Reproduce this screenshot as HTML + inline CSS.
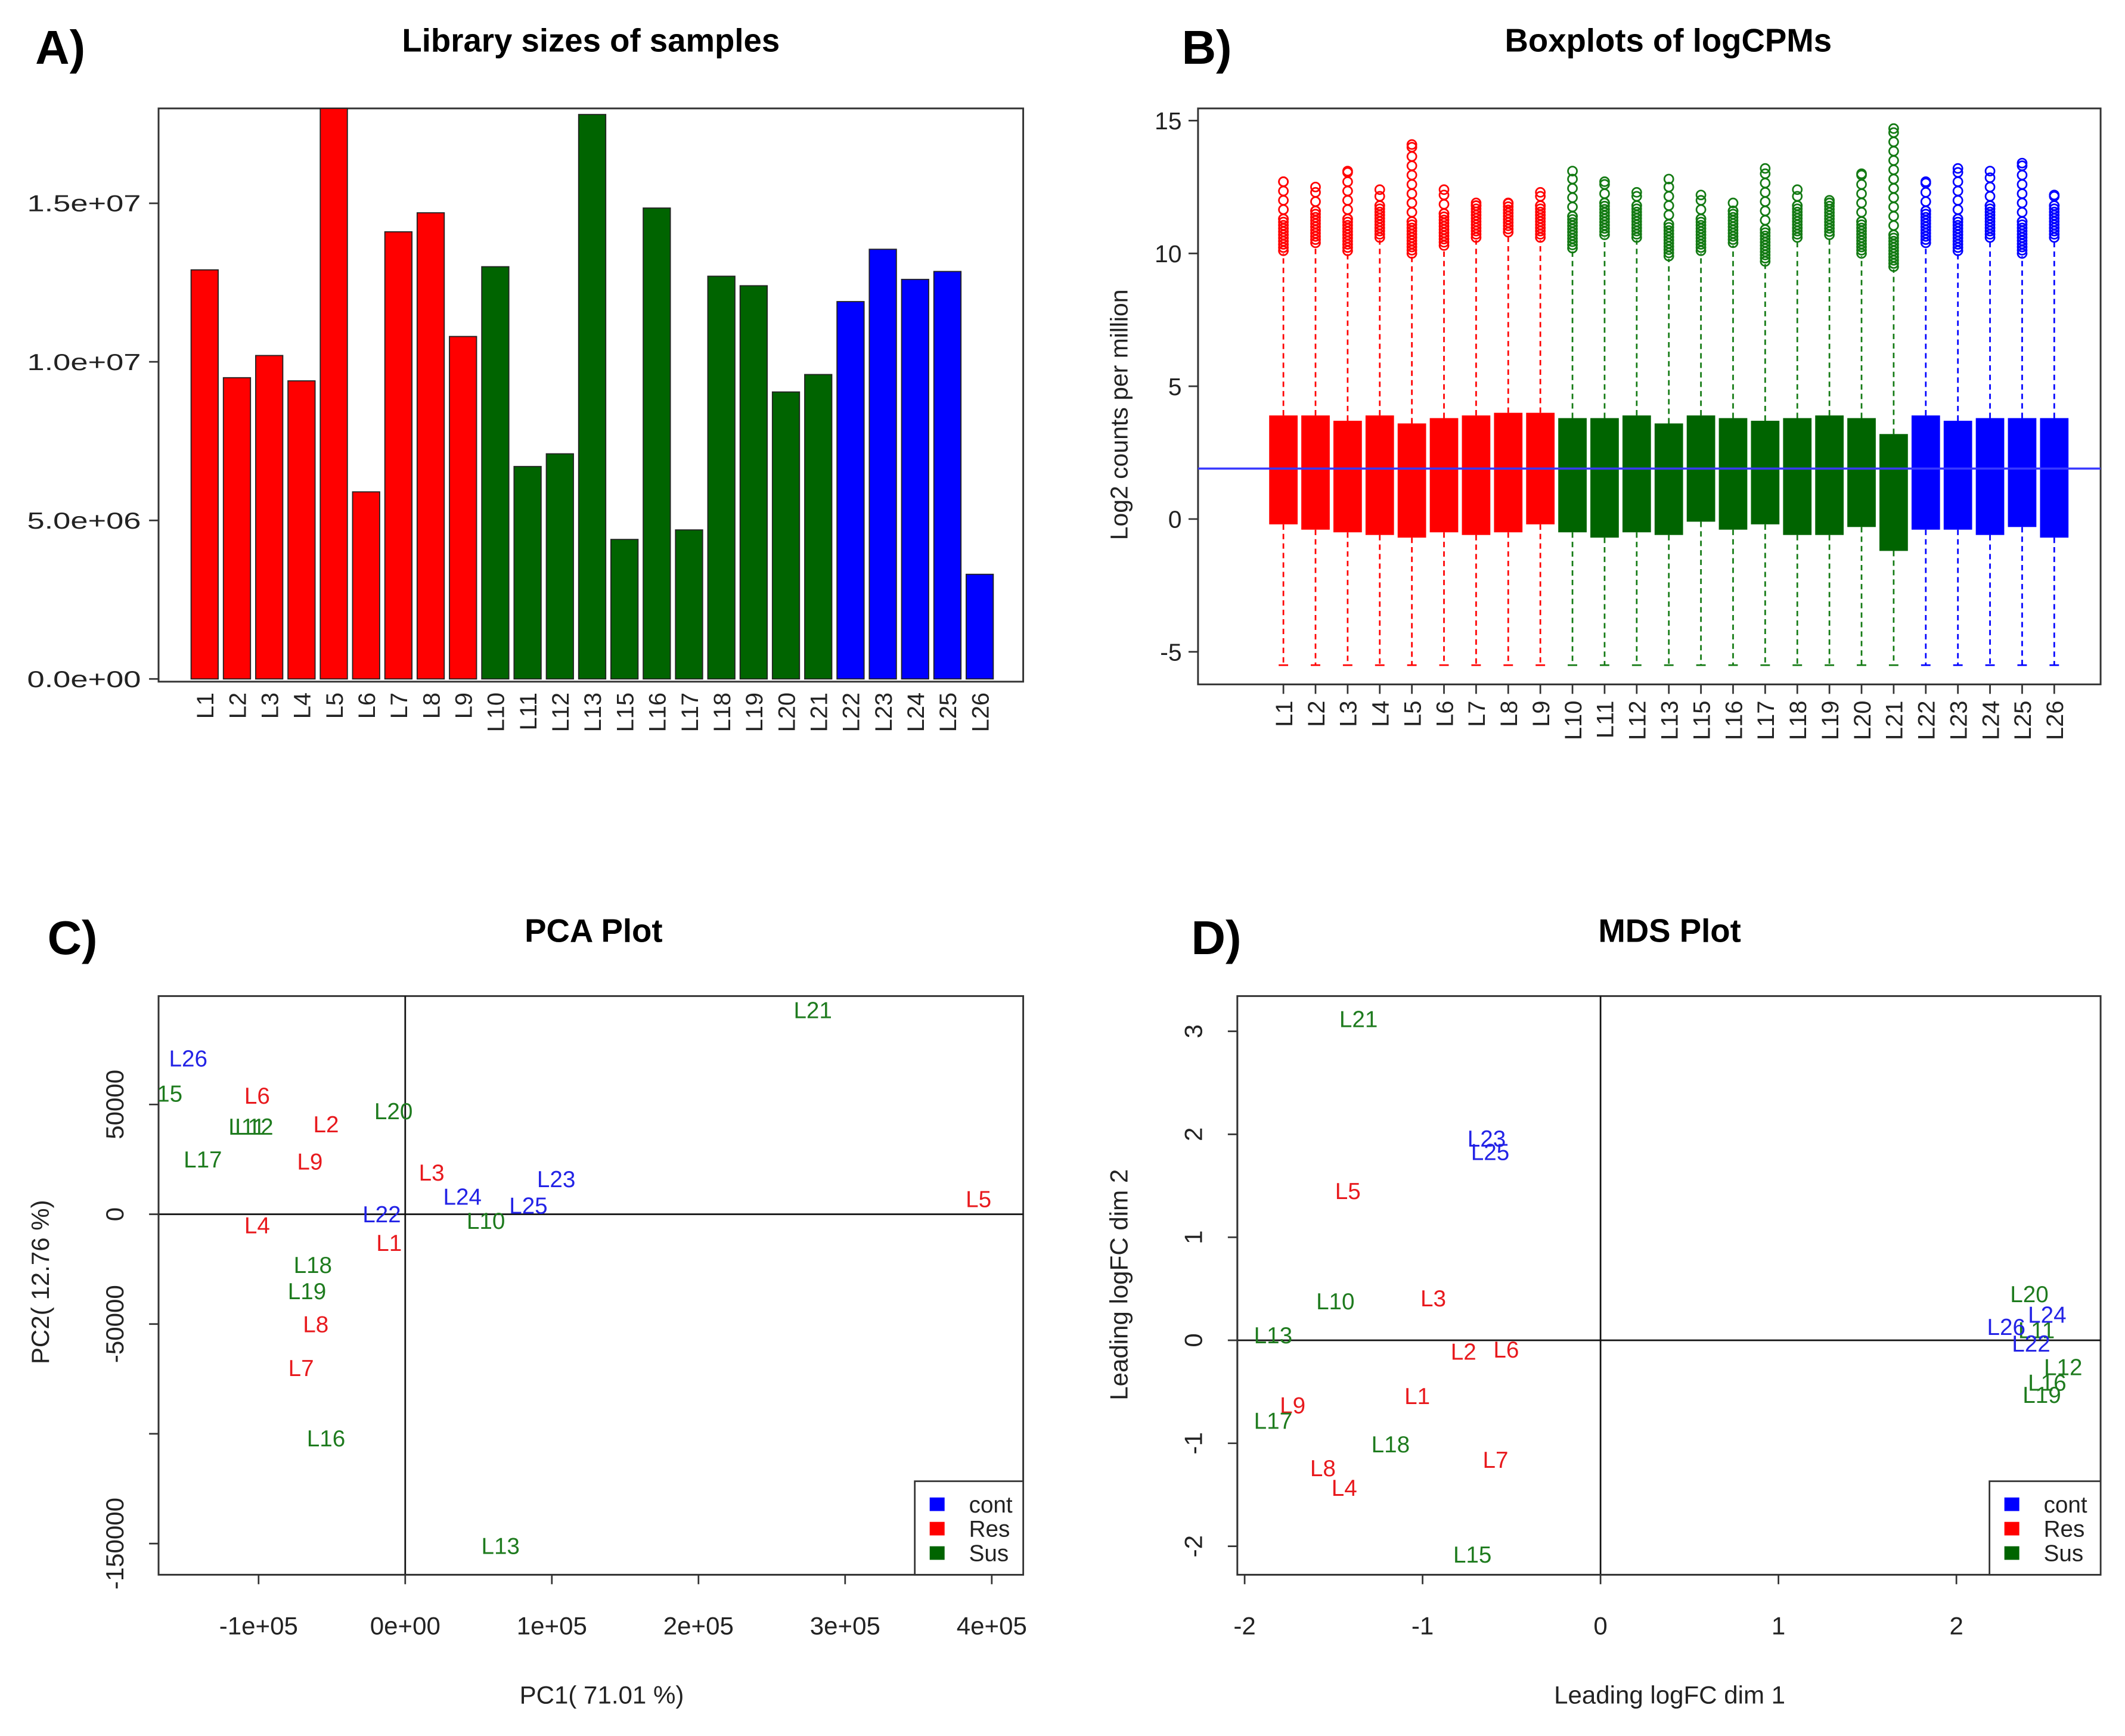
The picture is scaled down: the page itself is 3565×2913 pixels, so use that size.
<!DOCTYPE html>
<html><head><meta charset="utf-8">
<style>
html,body{margin:0;padding:0;background:#fff;}
svg{display:block;font-family:"Liberation Sans",Arial,sans-serif;}
</style></head>
<body>
<svg id="fig" width="3565" height="2913" viewBox="0 0 1568 1281" preserveAspectRatio="none" xmlns="http://www.w3.org/2000/svg">
<rect x="0" y="0" width="1568" height="1281" fill="#fff"/>
<g id="pa">
 <text x="26" y="47" font-size="35" font-weight="900">A)</text>
 <text x="436" y="38" font-size="24" font-weight="bold" text-anchor="middle">Library sizes of samples</text>
 <rect x="117" y="80" width="638" height="423" fill="none" stroke="#333" stroke-width="1.3"/>
</g>
<g id="pb">
 <text x="872" y="47" font-size="35" font-weight="900">B)</text>
 <text x="1231" y="38" font-size="24" font-weight="bold" text-anchor="middle">Boxplots of logCPMs</text>
 <rect x="884" y="80" width="666" height="425" fill="none" stroke="#333" stroke-width="1.3"/>
 <text transform="translate(832,306) rotate(-90)" font-size="18" text-anchor="middle" fill="#222">Log2 counts per million</text>
</g>
<g id="pc">
 <text x="35" y="704" font-size="35" font-weight="900">C)</text>
 <text x="438" y="695" font-size="24" font-weight="bold" text-anchor="middle">PCA Plot</text>
 <rect x="117" y="735" width="638" height="427" fill="none" stroke="#333" stroke-width="1.3"/>
 <text x="444" y="1257" font-size="18.5" text-anchor="middle" fill="#222">PC1( 71.01 %)</text>
 <text transform="translate(36,946) rotate(-90)" font-size="18.5" text-anchor="middle" fill="#222">PC2( 12.76 %)</text>
</g>
<g id="pd">
 <text x="879" y="704" font-size="35" font-weight="900">D)</text>
 <text x="1232" y="695" font-size="24" font-weight="bold" text-anchor="middle">MDS Plot</text>
 <rect x="913" y="735" width="637" height="427" fill="none" stroke="#333" stroke-width="1.3"/>
 <text x="1232" y="1257" font-size="18.5" text-anchor="middle" fill="#222">Leading logFC dim 1</text>
 <text transform="translate(832,948) rotate(-90)" font-size="18.5" text-anchor="middle" fill="#222">Leading logFC dim 2</text>
</g>
</svg>
<script>
const samples = ["L1","L2","L3","L4","L5","L6","L7","L8","L9","L10","L11","L12","L13","L15","L16","L17","L18","L19","L20","L21","L22","L23","L24","L25","L26"];
const groups = ["Res","Res","Res","Res","Res","Res","Res","Res","Res","Sus","Sus","Sus","Sus","Sus","Sus","Sus","Sus","Sus","Sus","Sus","cont","cont","cont","cont","cont"];
const libSizes = [12.9e6,9.5e6,10.2e6,9.4e6,18.2e6,5.9e6,14.1e6,14.7e6,10.8e6,13.0e6,6.7e6,7.1e6,17.8e6,4.4e6,14.85e6,4.7e6,12.7e6,12.4e6,9.05e6,9.6e6,11.9e6,13.55e6,12.6e6,12.85e6,3.3e6];
const libTicks = [0,5e6,10e6,15e6];
const libTickLabels = ["0.0e+00","5.0e+06","1.0e+07","1.5e+07"];
const boxQ3 = [3.9,3.9,3.7,3.9,3.6,3.8,3.9,4.0,4.0,3.8,3.8,3.9,3.6,3.9,3.8,3.7,3.8,3.9,3.8,3.2,3.9,3.7,3.8,3.8,3.8];
const boxQ1 = [-0.2,-0.4,-0.5,-0.6,-0.7,-0.5,-0.6,-0.5,-0.2,-0.5,-0.7,-0.5,-0.6,-0.1,-0.4,-0.2,-0.6,-0.6,-0.3,-1.2,-0.4,-0.4,-0.6,-0.3,-0.7];
const whiskLow = [-5.5,-5.5,-5.5,-5.5,-5.5,-5.5,-5.5,-5.5,-5.5,-5.5,-5.5,-5.5,-5.5,-5.5,-5.5,-5.5,-5.5,-5.5,-5.5,-5.5,-5.5,-5.5,-5.5,-5.5,-5.5];
const whiskHigh = [10.0,10.3,10.0,10.5,9.9,10.2,10.5,10.7,10.5,10.1,10.6,10.5,9.8,10.0,10.3,9.6,10.5,10.6,9.9,9.4,10.3,10.0,10.5,9.9,10.5];
const outlierMax = [12.7,12.5,13.1,12.4,14.1,12.4,11.9,11.9,12.3,13.1,12.7,12.3,12.8,12.2,11.9,13.2,12.4,12.0,13.0,14.7,12.7,13.2,13.1,13.4,12.2];
const medianLine = 1.9;
const boxTicks = [-5,0,5,10,15];
const pcaX = [-11e3,-54e3,18e3,-101e3,391e3,-101e3,-71e3,-61e3,-65e3,55e3,-108e3,-103e3,65e3,-165e3,-54e3,-138e3,-63e3,-67e3,-8e3,278e3,-16e3,103e3,39e3,84e3,-148e3];
const pcaY = [-13e3,41e3,19e3,-5e3,7e3,54e3,-70e3,-50e3,24e3,-3e3,40e3,40e3,-151e3,55e3,-102e3,25e3,-23e3,-35e3,47e3,93e3,0,16e3,8e3,4e3,71e3];
const pcaXTicks = [-1e5,0,1e5,2e5,3e5,4e5];
const pcaXTickLabels = ["-1e+05","0e+00","1e+05","2e+05","3e+05","4e+05"];
const pcaYTicks = [-150000,-100000,-50000,0,50000];
const pcaYTickLabels = ["-150000","","-50000","0","50000"];
const mdsX = [-1.03,-0.77,-0.94,-1.44,-1.42,-0.53,-0.59,-1.56,-1.73,-1.49,2.45,2.6,-1.84,-0.72,2.51,-1.84,-1.18,2.48,2.41,-1.36,2.42,-0.64,2.51,-0.62,2.28];
const mdsY = [-0.54,-0.11,0.41,-1.43,1.45,-0.09,-1.16,-1.24,-0.63,0.38,0.1,-0.26,0.05,-2.08,-0.41,-0.78,-1.01,-0.53,0.45,3.12,-0.03,1.96,0.25,1.83,0.13];
const mdsXTicks = [-2,-1,0,1,2];
const mdsYTicks = [-2,-1,0,1,2,3];
const legendLabels = ["cont","Res","Sus"];

const NS = "http://www.w3.org/2000/svg";
const fill = {Res:"#ff0000",Sus:"#006400",cont:"#0000ff"};
const txtCol = {Res:"#e8191d",Sus:"#1e7b1e",cont:"#2323e6"};
function mk(parent, tag, attrs){const e=document.createElementNS(NS,tag);for(const k in attrs)e.setAttribute(k,attrs[k]);parent.appendChild(e);return e;}

// Panel A
const pa=document.getElementById('pa');
const aY=v=>501-v/5e6*117;
const aX=i=>141+i*23.83;
const aBw=20;
mk(pa,'line',{x1:117,y1:aY(0),x2:117,y2:aY(15e6),stroke:'#333','stroke-width':1.2});
libTicks.forEach((t,i)=>{
  const tk=mk(pa,'line',{x1:110,x2:117,y1:aY(t),y2:aY(t),stroke:'#333','stroke-width':1.2});
  
  
  const tl=mk(pa,'text',{x:104,y:aY(t)+6,'font-size':17,'text-anchor':'end',fill:'#222',textLength:84,lengthAdjust:'spacingAndGlyphs'});
  tl.textContent=libTickLabels[i];
  
  
});
samples.forEach((s,i)=>{
  const top=Math.max(aY(libSizes[i]),80);
  const b=mk(pa,'rect',{x:aX(i),y:top,width:aBw,height:aY(0)-top,fill:fill[groups[i]],stroke:'#222','stroke-width':0.8});
  
  
  const t=mk(pa,'text',{transform:`translate(${aX(i)+aBw/2+6.5},511) rotate(-90)`,'font-size':17.5,'text-anchor':'end',fill:'#222'});
  t.textContent=s;
  
  
});

// Panel B
const pb=document.getElementById('pb');
const bY=v=>383-v*19.6;
const bX=i=>947+i*23.7;
const bBw=21;
boxTicks.forEach(t=>{
  const tk=mk(pb,'line',{x1:877,x2:884,y1:bY(t),y2:bY(t),stroke:'#333','stroke-width':1.2});
  
  
  const tl=mk(pb,'text',{x:872,y:bY(t)+6.5,'font-size':18,'text-anchor':'end',fill:'#222'});
  tl.textContent=String(t);
  
  
});
mk(pb,'line',{x1:884,x2:884,y1:bY(-5),y2:bY(15),stroke:'#333','stroke-width':1.2});
mk(pb,'line',{x1:bX(0),x2:bX(24),y1:505,y2:505,stroke:'#333','stroke-width':1.2});
samples.forEach((s,i)=>{
  const c=fill[groups[i]], oc=groups[i]==='Sus'?'#137a13':c;
  const cx=bX(i);
  const w1=mk(pb,'line',{x1:cx,x2:cx,y1:bY(boxQ1[i]),y2:bY(whiskLow[i]),stroke:oc,'stroke-width':1.2,'stroke-dasharray':'4,3'});
  
  
  const w2=mk(pb,'line',{x1:cx,x2:cx,y1:bY(boxQ3[i]),y2:bY(whiskHigh[i]),stroke:oc,'stroke-width':1.2,'stroke-dasharray':'4,3'});
  
  
  mk(pb,'line',{x1:cx-3.5,x2:cx+3.5,y1:bY(whiskLow[i]),y2:bY(whiskLow[i]),stroke:oc,'stroke-width':1.2});
  const bx=mk(pb,'rect',{x:cx-bBw/2,y:bY(boxQ3[i]),width:bBw,height:bY(boxQ1[i])-bY(boxQ3[i]),fill:c});
  
  
  const lo=whiskHigh[i]+0.1, hi=outlierMax[i];
  const vals=[];
  for(let v=lo; v<Math.min(lo+1.2,hi); v+=0.12) vals.push(v);
  for(let v=lo+1.2; v<hi; v+=0.35) vals.push(v);
  vals.push(hi);
  vals.forEach(v=>{
    const o=mk(pb,'circle',{cx:cx,cy:bY(v),r:3.3,fill:'none',stroke:oc,'stroke-width':1.2});
    
    
  });
  const tk=mk(pb,'line',{x1:cx,x2:cx,y1:505,y2:512,stroke:'#333','stroke-width':1.2});
  
  
  const t=mk(pb,'text',{transform:`translate(${cx+6.5},517) rotate(-90)`,'font-size':17.5,'text-anchor':'end',fill:'#222'});
  t.textContent=s;
  
  
});
const ml=mk(pb,'line',{x1:884,x2:1550,y1:bY(medianLine),y2:bY(medianLine),stroke:'#3a3aff','stroke-width':1.5});



function scatter(g,xs,ys,X,Y,box,prefix,xt,xtl,yt,ytl){
  const [bx0,by0,bx1,by1]=box;
  const cp=mk(g,'clipPath',{id:prefix+'clip'});
  mk(cp,'rect',{x:bx0,y:by0,width:bx1-bx0,height:by1-by0});
  const inner=mk(g,'g',{'clip-path':`url(#${prefix}clip)`});
  mk(inner,'line',{x1:X(0),x2:X(0),y1:by0,y2:by1,stroke:'#111','stroke-width':1.2});
  mk(inner,'line',{x1:bx0,x2:bx1,y1:Y(0),y2:Y(0),stroke:'#111','stroke-width':1.2});
  mk(g,'line',{x1:X(xt[0]),x2:X(xt[xt.length-1]),y1:by1,y2:by1,stroke:'#333','stroke-width':1.2});
  xt.forEach((t,i)=>{
    const tk=mk(g,'line',{x1:X(t),x2:X(t),y1:by1,y2:by1+7,stroke:'#333','stroke-width':1.2});
    
    
    const tl=mk(g,'text',{x:X(t),y:by1+44,'font-size':18.5,'text-anchor':'middle',fill:'#222'});
    tl.textContent=xtl[i];
    
    
  });
  mk(g,'line',{x1:bx0,x2:bx0,y1:Y(yt[0]),y2:Y(yt[yt.length-1]),stroke:'#333','stroke-width':1.2});
  yt.forEach((t,i)=>{
    const tk=mk(g,'line',{x1:bx0-7,x2:bx0,y1:Y(t),y2:Y(t),stroke:'#333','stroke-width':1.2});
    
    
    const tl=mk(g,'text',{transform:`translate(${bx0-26},${Y(t)}) rotate(-90)`,'font-size':18.5,'text-anchor':'middle',fill:'#222'});
    tl.textContent=ytl[i];
    
    
  });
  samples.forEach((s,i)=>{
    const t=mk(inner,'text',{x:X(xs[i]),y:Y(ys[i])+6,'font-size':17,'text-anchor':'middle',fill:txtCol[groups[i]]});
    t.textContent=s;
    
    
  });
  const lg=mk(g,'g',{});
  
  
  mk(lg,'rect',{x:box[4],y:by1-69,width:bx1-box[4],height:69,fill:'#fff',stroke:'#333','stroke-width':1.2});
  legendLabels.forEach((l,i)=>{
    const yy=by1-52+i*18;
    mk(lg,'rect',{x:box[4]+11,y:yy-5,width:11,height:10,fill:fill[l]});
    const t=mk(lg,'text',{x:box[4]+40,y:yy+6,'font-size':17,fill:'#222'});
    t.textContent=l;
    
    
  });
}
const pcX=v=>299+v/1e5*108.2;
const pcY=v=>896-v/50000*81;
scatter(document.getElementById('pc'),pcaX,pcaY,pcX,pcY,[117,735,755,1162,675],'pca-',pcaXTicks,pcaXTickLabels,pcaYTicks,pcaYTickLabels);
const mdX=v=>1181+v*131.3;
const mdY=v=>989-v*76;
scatter(document.getElementById('pd'),mdsX,mdsY,mdX,mdY,[913,735,1550,1162,1468],'mds-',mdsXTicks,mdsXTicks.map(String),mdsYTicks,mdsYTicks.map(String));
</script>
</body></html>
